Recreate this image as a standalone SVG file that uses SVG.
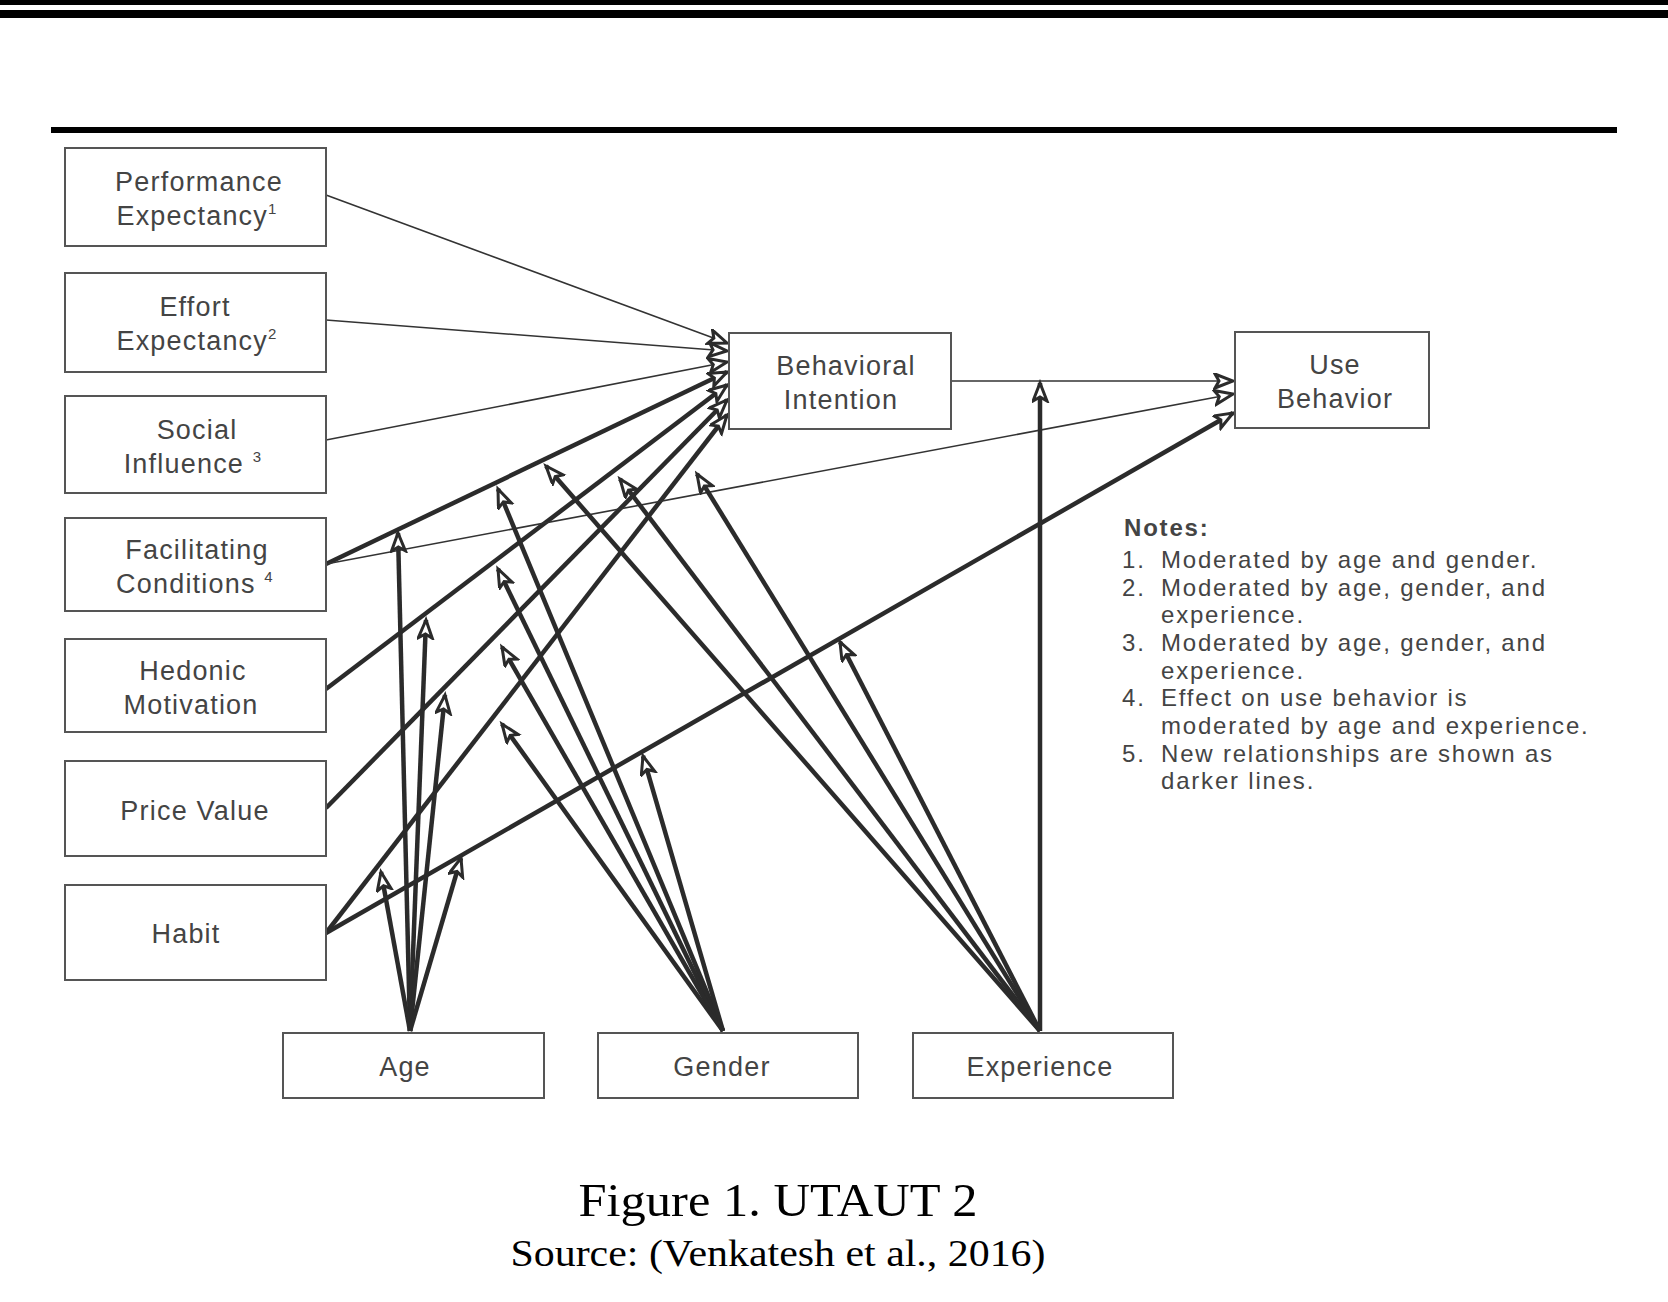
<svg xmlns="http://www.w3.org/2000/svg" width="1668" height="1302" viewBox="0 0 1668 1302">
<style>
.box{fill:#fff;stroke:#555;stroke-width:2}
.t{font-family:"Liberation Sans",Arial,sans-serif;font-size:27px;letter-spacing:1.2px;fill:#444;text-anchor:middle}
.n{font-family:"Liberation Sans",Arial,sans-serif;font-size:24px;letter-spacing:1.8px;fill:#444}
.thin{stroke:#333;stroke-width:1.6;fill:none}
.thick{stroke:#2b2b2b;stroke-width:4.5;fill:none}
.cap{font-family:"Liberation Serif","Times New Roman",serif;fill:#000;text-anchor:middle}
</style>
<defs>
<marker id="a" markerUnits="userSpaceOnUse" markerWidth="24" markerHeight="20" refX="20" refY="8" orient="auto">
<path d="M2,1 L20,8 L2,15 L6,8 z" fill="#fff" stroke="#2b2b2b" stroke-width="3" stroke-linejoin="miter"/>
</marker>
</defs>
<rect x="0" y="0" width="1668" height="5" fill="#000"/>
<rect x="0" y="10" width="1668" height="8" fill="#000"/>
<rect x="51" y="127" width="1566" height="6" fill="#000"/>
<g id="connectors">
<line class="thin" x1="326" y1="195" x2="727" y2="343" marker-end="url(#a)"/>
<line class="thin" x1="326" y1="320" x2="727" y2="351" marker-end="url(#a)"/>
<line class="thin" x1="326" y1="440" x2="727" y2="362" marker-end="url(#a)"/>
<line class="thick" x1="326" y1="564" x2="727" y2="372" marker-end="url(#a)"/>
<line class="thick" x1="326" y1="689" x2="727" y2="385" marker-end="url(#a)"/>
<line class="thick" x1="326" y1="808" x2="727" y2="400" marker-end="url(#a)"/>
<line class="thick" x1="326" y1="933" x2="727" y2="415" marker-end="url(#a)"/>
<line class="thin" x1="951" y1="381" x2="1233" y2="381" marker-end="url(#a)"/>
<line class="thin" x1="326" y1="564" x2="1233" y2="394" marker-end="url(#a)"/>
<line class="thick" x1="326" y1="933" x2="1233" y2="413" marker-end="url(#a)"/>
<line class="thick" x1="1040" y1="1031" x2="1040" y2="383" marker-end="url(#a)"/>
<line class="thick" x1="410" y1="1031" x2="398" y2="533" marker-end="url(#a)"/>
<line class="thick" x1="410" y1="1031" x2="426" y2="620" marker-end="url(#a)"/>
<line class="thick" x1="410" y1="1031" x2="445" y2="695" marker-end="url(#a)"/>
<line class="thick" x1="410" y1="1031" x2="461" y2="858" marker-end="url(#a)"/>
<line class="thick" x1="410" y1="1031" x2="381" y2="872" marker-end="url(#a)"/>
<line class="thick" x1="723" y1="1031" x2="498" y2="489" marker-end="url(#a)"/>
<line class="thick" x1="723" y1="1031" x2="498" y2="569" marker-end="url(#a)"/>
<line class="thick" x1="723" y1="1031" x2="502" y2="647" marker-end="url(#a)"/>
<line class="thick" x1="723" y1="1031" x2="502" y2="724" marker-end="url(#a)"/>
<line class="thick" x1="723" y1="1031" x2="643" y2="756" marker-end="url(#a)"/>
<line class="thick" x1="1040" y1="1031" x2="546" y2="466" marker-end="url(#a)"/>
<line class="thick" x1="1040" y1="1031" x2="620" y2="479" marker-end="url(#a)"/>
<line class="thick" x1="1040" y1="1031" x2="697" y2="474" marker-end="url(#a)"/>
<line class="thick" x1="1040" y1="1031" x2="840" y2="642" marker-end="url(#a)"/>
</g>
<g id="pe"><rect class="box" x="65" y="148" width="261" height="98"/><text class="t" x="199" y="191">Performance</text><text class="t" x="197" y="225">Expectancy<tspan font-size="15" dy="-11">1</tspan></text></g>
<g id="ee"><rect class="box" x="65" y="273" width="261" height="99"/><text class="t" x="195" y="316">Effort</text><text class="t" x="197" y="350">Expectancy<tspan font-size="15" dy="-11">2</tspan></text></g>
<g id="si"><rect class="box" x="65" y="396" width="261" height="97"/><text class="t" x="197" y="439">Social</text><text class="t" x="193" y="473">Influence <tspan font-size="15" dy="-11">3</tspan></text></g>
<g id="fc"><rect class="box" x="65" y="518" width="261" height="93"/><text class="t" x="197" y="559">Facilitating</text><text class="t" x="195" y="593">Conditions <tspan font-size="15" dy="-11">4</tspan></text></g>
<g id="hm"><rect class="box" x="65" y="639" width="261" height="93"/><text class="t" x="193" y="680">Hedonic</text><text class="t" x="191" y="714">Motivation</text></g>
<g id="pv"><rect class="box" x="65" y="761" width="261" height="95"/><text class="t" x="195" y="820">Price Value</text></g>
<g id="habit"><rect class="box" x="65" y="885" width="261" height="95"/><text class="t" x="186" y="943">Habit</text></g>
<g id="bi"><rect class="box" x="729" y="333" width="222" height="96"/><text class="t" x="846" y="375">Behavioral</text><text class="t" x="841" y="409">Intention</text></g>
<g id="ub"><rect class="box" x="1235" y="332" width="194" height="96"/><text class="t" x="1335" y="374">Use</text><text class="t" x="1335" y="408">Behavior</text></g>
<g id="age"><rect class="box" x="283" y="1033" width="261" height="65"/><text class="t" x="405" y="1076">Age</text></g>
<g id="gender"><rect class="box" x="598" y="1033" width="260" height="65"/><text class="t" x="722" y="1076">Gender</text></g>
<g id="experience"><rect class="box" x="913" y="1033" width="260" height="65"/><text class="t" x="1040" y="1076">Experience</text></g>
<g id="notes">
<text class="n" x="1124" y="536" font-weight="bold" font-size="26" letter-spacing="1.5">Notes:</text>
<text class="n" x="1122" y="568">1.</text><text class="n" x="1161" y="568">Moderated by age and gender.</text>
<text class="n" x="1122" y="596">2.</text><text class="n" x="1161" y="596">Moderated by age, gender, and</text>
<text class="n" x="1161" y="623">experience.</text>
<text class="n" x="1122" y="651">3.</text><text class="n" x="1161" y="651">Moderated by age, gender, and</text>
<text class="n" x="1161" y="679">experience.</text>
<text class="n" x="1122" y="706">4.</text><text class="n" x="1161" y="706">Effect on use behavior is</text>
<text class="n" x="1161" y="734">moderated by age and experience.</text>
<text class="n" x="1122" y="762">5.</text><text class="n" x="1161" y="762">New relationships are shown as</text>
<text class="n" x="1161" y="789">darker lines.</text>
</g>
<text class="cap" x="778" y="1216" font-size="46" textLength="399" lengthAdjust="spacingAndGlyphs">Figure 1. UTAUT 2</text>
<text class="cap" x="778" y="1266" font-size="38" textLength="535" lengthAdjust="spacingAndGlyphs">Source: (Venkatesh et al., 2016)</text>
</svg>
